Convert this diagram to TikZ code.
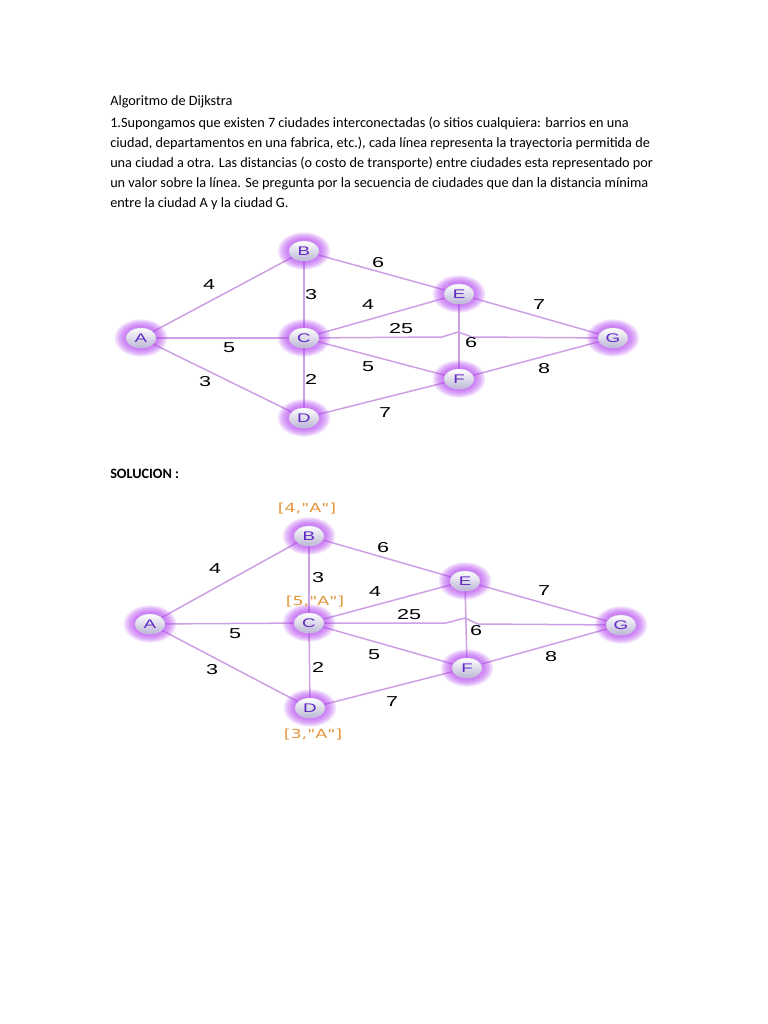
\documentclass[tikz,border=0pt]{standalone}
\usepackage{fontspec}
\setmainfont{Carlito}
\newfontfamily\grafofont[FakeStretch=1.5]{Liberation Sans}
\newfontfamily\marcafont[FakeStretch=1.4]{DejaVu Sans}
\usetikzlibrary{shapes.geometric,backgrounds}
\definecolor{Lila}{RGB}{205,160,228}
\definecolor{Brillo}{RGB}{180,70,240}
\definecolor{Letra}{RGB}{95,40,195}
\definecolor{Naranja}{RGB}{226,150,60}
\definecolor{Nucleo}{RGB}{186,182,212}
\pgfdeclarelayer{brillo}
\pgfsetlayers{background,brillo,main}

\begin{document}
\begin{tikzpicture}[x=0.02811cm,y=-0.02811cm,
  ciudad/.style={ellipse,inner sep=0pt,minimum width=24pt,minimum height=16pt,top color=white,bottom color=Nucleo,draw=Nucleo!70,line width=0.3pt,font=\grafofont\fontsize{10}{10}\selectfont,text=Letra},
  peso/.style={font=\grafofont\fontsize{11.5}{12}\selectfont,inner sep=0pt},
  marca/.style={font=\marcafont\fontsize{10}{11}\selectfont,text=Naranja,inner sep=0pt},
  arista/.style={draw=Lila,line width=1.2pt}
]
  \useasboundingbox (0,0) rectangle (768,1024);

  % enunciado
  \node[anchor=base west,inner sep=0pt,font=\fontsize{11.4}{13}\selectfont] (titulo) at (110,105) {Algoritmo de Dijkstra};
  \node[anchor=north west,inner sep=0pt,align=left,font=\fontsize{11.4}{16.1}\selectfont] (enunciado) at (110,116.5)
    {1.Supongamos que existen 7 ciudades interconectadas (o sitios cualquiera: barrios en una\\
     ciudad, departamentos en una fabrica, etc.), cada línea representa la trayectoria permitida de\\
     una ciudad a otra. Las distancias (o costo de transporte) entre ciudades esta representado por\\
     un valor sobre la línea. Se pregunta por la secuencia de ciudades que dan la distancia mínima\\
     entre la ciudad A y la ciudad G.};

  % grafo del enunciado
  \node[ciudad] (A1) at (141,338) {A};
  \node[ciudad] (B1) at (304,251) {B};
  \node[ciudad] (C1) at (304,338) {C};
  \node[ciudad] (D1) at (304,418) {D};
  \node[ciudad] (E1) at (459,294) {E};
  \node[ciudad] (F1) at (459,379) {F};
  \node[ciudad] (G1) at (613,338) {G};
  \coordinate (s1) at (442,337);
  \coordinate (t1) at (458,332);
  \coordinate (u1) at (472,337);

  \begin{scope}[on background layer]
    \draw[arista] (A1)--(B1);
    \draw[arista] (A1)--(C1);
    \draw[arista] (A1)--(D1);
    \draw[arista] (B1)--(C1);
    \draw[arista] (B1)--(E1);
    \draw[arista] (C1)--(D1);
    \draw[arista] (C1)--(E1);
    \draw[arista] (C1)--(F1);
    \draw[arista] (C1)--(s1)--(t1)--(u1)--(G1);
    \draw[arista] (D1)--(F1);
    \draw[arista] (E1)--(F1);
    \draw[arista] (E1)--(G1);
    \draw[arista] (F1)--(G1);
  \end{scope}

  \node[peso] (pAB1) at (209,285) {4};
  \node[peso] (pBE1) at (378,263) {6};
  \node[peso] (pBC1) at (311,295) {3};
  \node[peso] (pCE1) at (368,305) {4};
  \node[peso] (pEG1) at (539,305) {7};
  \node[peso] (pCG1) at (401,329) {25};
  \node[peso] (pAC1) at (229,348) {5};
  \node[peso] (pEF1) at (471,343) {6};
  \node[peso] (pCF1) at (368,367) {5};
  \node[peso] (pCD1) at (311,379) {2};
  \node[peso] (pAD1) at (205,382) {3};
  \node[peso] (pFG1) at (544,369) {8};
  \node[peso] (pDF1) at (385,413) {7};

  % solucion
  \node[anchor=base west,inner sep=0pt,font=\bfseries\fontsize{11.4}{13}\selectfont] (solucion) at (110,478) {SOLUCION :};

  \node[ciudad] (A2) at (150,624) {A};
  \node[ciudad] (B2) at (309,536) {B};
  \node[ciudad] (C2) at (309,623) {C};
  \node[ciudad] (D2) at (310,708) {D};
  \node[ciudad] (E2) at (465,581) {E};
  \node[ciudad] (F2) at (467,668) {F};
  \node[ciudad] (G2) at (621,625) {G};
  \coordinate (s2) at (446,623);
  \coordinate (t2) at (465,618);
  \coordinate (u2) at (478,624);

  \begin{scope}[on background layer]
    \draw[arista] (A2)--(B2);
    \draw[arista] (A2)--(C2);
    \draw[arista] (A2)--(D2);
    \draw[arista] (B2)--(C2);
    \draw[arista] (B2)--(E2);
    \draw[arista] (C2)--(D2);
    \draw[arista] (C2)--(E2);
    \draw[arista] (C2)--(F2);
    \draw[arista] (C2)--(s2)--(t2)--(u2)--(G2);
    \draw[arista] (D2)--(F2);
    \draw[arista] (E2)--(F2);
    \draw[arista] (E2)--(G2);
    \draw[arista] (F2)--(G2);
  \end{scope}

  \node[peso] (pAB2) at (215,569) {4};
  \node[peso] (pBE2) at (383,548) {6};
  \node[peso] (pBC2) at (318,578) {3};
  \node[peso] (pCE2) at (375,592) {4};
  \node[peso] (pEG2) at (544,591) {7};
  \node[peso] (pCG2) at (409,615) {25};
  \node[peso] (pAC2) at (235,634) {5};
  \node[peso] (pEF2) at (476,631) {6};
  \node[peso] (pCF2) at (374,655) {5};
  \node[peso] (pCD2) at (318,667) {2};
  \node[peso] (pAD2) at (212,670) {3};
  \node[peso] (pFG2) at (551,657) {8};
  \node[peso] (pDF2) at (392,702) {7};

  \node[marca] (mB) at (307,509) {[4,"A"]};
  \node[marca] (mC) at (315,602) {[5,"A"]};
  \node[marca] (mD) at (313,735) {[3,"A"]};

  % brillo de las ciudades
  \begin{pgfonlayer}{brillo}
    \foreach \n in {A1,B1,C1,D1,E1,F1,G1,A2,B2,C2,D2,E2,F2,G2}
      \foreach \k in {0,...,7}
        \fill[Brillo,opacity=0.14] (\n) ellipse ({21pt-\k*1.2pt} and {15pt-\k*0.85pt});
  \end{pgfonlayer}
\end{tikzpicture}
\end{document}
